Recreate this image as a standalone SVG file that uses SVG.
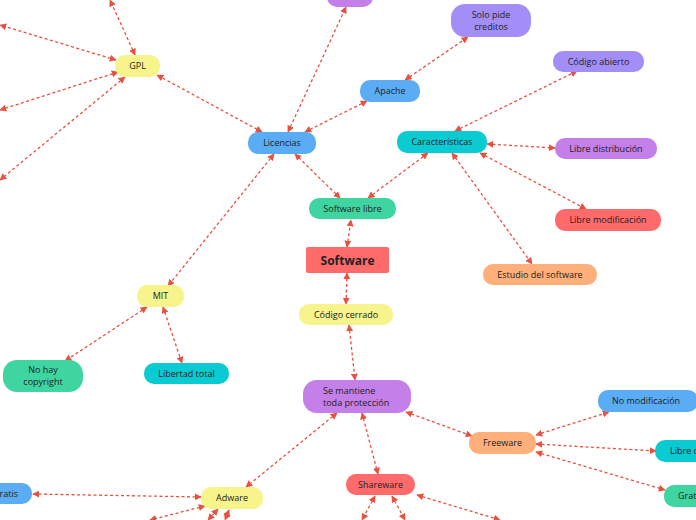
<svg xmlns="http://www.w3.org/2000/svg" width="696" height="520" viewBox="0 0 696 520">
<style>
text{font-family:"Open Sans","Noto Sans",sans-serif;font-size:9px;fill:#222;text-anchor:middle}
.e line{stroke:#E8503F;stroke-width:1.3;stroke-dasharray:3,2.5;marker-start:url(#a);marker-end:url(#a)}
.y{fill:#F7F48B}.g{fill:#3FD5A0}.b{fill:#5AADF5}.c{fill:#0ACBD1}.p{fill:#C57FE8}.l{fill:#A38EF8}.r{fill:#FF6B6B}.o{fill:#FFB07A}
</style>
<defs><marker id="a" viewBox="0 0 10 10" refX="9" refY="5" markerWidth="7" markerHeight="7" markerUnits="userSpaceOnUse" orient="auto-start-reverse"><path d="M0,0L10,5L0,10z" fill="#E8503F"/></marker></defs>
<rect width="696" height="520" fill="#fff"/>
<g class="e">
<line x1="347" y1="247" x2="351" y2="220"/>
<line x1="347" y1="273" x2="346" y2="304"/>
<line x1="340" y1="198" x2="295" y2="154"/>
<line x1="368" y1="198" x2="428" y2="153"/>
<line x1="262" y1="132" x2="157" y2="75"/>
<line x1="288" y1="132" x2="346" y2="7"/>
<line x1="305" y1="132" x2="367" y2="101"/>
<line x1="274" y1="154" x2="168" y2="286"/>
<line x1="135" y1="55" x2="110" y2="0"/>
<line x1="116" y1="60" x2="0" y2="25"/>
<line x1="118" y1="72" x2="0" y2="110"/>
<line x1="125" y1="77" x2="0" y2="180"/>
<line x1="147" y1="307" x2="65" y2="361"/>
<line x1="163" y1="307" x2="182" y2="363"/>
<line x1="405" y1="80" x2="468" y2="37"/>
<line x1="455" y1="131" x2="577" y2="71"/>
<line x1="487" y1="144" x2="555" y2="148"/>
<line x1="480" y1="153" x2="586" y2="209"/>
<line x1="452" y1="153" x2="532" y2="264"/>
<line x1="349" y1="325" x2="355" y2="380"/>
<line x1="337" y1="413" x2="246" y2="487"/>
<line x1="362" y1="413" x2="378" y2="474"/>
<line x1="406" y1="412" x2="472" y2="436"/>
<line x1="536" y1="435" x2="609" y2="412"/>
<line x1="536" y1="444" x2="656" y2="451"/>
<line x1="536" y1="452" x2="665" y2="490"/>
<line x1="201" y1="497" x2="33" y2="494"/>
<line x1="205" y1="506" x2="150" y2="520"/>
<line x1="218" y1="509" x2="208" y2="520"/>
<line x1="229" y1="510" x2="225" y2="520"/>
<line x1="375" y1="496" x2="362" y2="520"/>
<line x1="392" y1="496" x2="405" y2="520"/>
<line x1="417" y1="495" x2="500" y2="520"/>
</g>
<g id="software"><rect class="r" x="306" y="247" width="83" height="26" rx="2"/><text x="347.5" y="264.5" style="font-size:12px;font-weight:bold">Software</text></g>
<g id="libre"><rect class="g" x="309" y="198" width="87" height="21" rx="10"/><text x="352.5" y="211.5">Software libre</text></g>
<g id="cerrado"><rect class="y" x="299" y="304" width="94" height="21" rx="10"/><text x="346" y="317.5">Código cerrado</text></g>
<g id="licencias"><rect class="b" x="248" y="132" width="68" height="22" rx="10"/><text x="282" y="146">Licencias</text></g>
<g id="gpl"><rect class="y" x="115" y="55" width="45" height="22" rx="10"/><text x="137.5" y="69">GPL</text></g>
<g id="mit"><rect class="y" x="137" y="285" width="47" height="22" rx="10"/><text x="160.5" y="299">MIT</text></g>
<g id="nohay"><rect class="g" x="3" y="360" width="80" height="32" rx="14"/><text x="43" y="373">No hay</text><text x="43" y="385">copyright</text></g>
<g id="libertad"><rect class="c" x="144" y="363" width="85" height="21" rx="10"/><text x="186.5" y="376.5">Libertad total</text></g>
<g id="top"><rect class="p" x="327" y="-15" width="46" height="22" rx="10"/></g>
<g id="apache"><rect class="b" x="360" y="80" width="60" height="22" rx="10"/><text x="390" y="94">Apache</text></g>
<g id="solo"><rect class="l" x="451" y="4" width="80" height="33" rx="14"/><text x="491" y="17.5">Solo pide</text><text x="491" y="29.5">creditos</text></g>
<g id="caract"><rect class="c" x="397" y="131" width="90" height="22" rx="10"/><text x="442" y="145">Características</text></g>
<g id="abierto"><rect class="l" x="553" y="51" width="91" height="21" rx="10"/><text x="598.5" y="64.5">Código abierto</text></g>
<g id="distrib"><rect class="p" x="555" y="138" width="102" height="21" rx="10"/><text x="606" y="151.5">Libre distribución</text></g>
<g id="modif"><rect class="r" x="555" y="209" width="106" height="22" rx="10"/><text x="608" y="223">Libre modificación</text></g>
<g id="estudio"><rect class="o" x="483" y="264" width="114" height="21" rx="10"/><text x="540" y="277.5">Estudio del software</text></g>
<g id="mantiene"><rect class="p" x="303" y="380" width="108" height="33" rx="14"/><text x="350" y="393.5" style="text-anchor:start" dx="-27">Se mantiene</text><text x="323" y="405.5" style="text-anchor:start">toda protección</text></g>
<g id="freeware"><rect class="o" x="469" y="432" width="67" height="22" rx="10"/><text x="502.5" y="446">Freeware</text></g>
<g id="nomod"><rect class="b" x="598" y="390" width="100" height="22" rx="10"/><text x="646" y="404">No modificación</text></g>
<g id="libred"><rect class="c" x="655" y="440" width="60" height="22" rx="10"/><text x="670" y="454" style="text-anchor:start">Libre d</text></g>
<g id="grat"><rect class="g" x="664" y="485" width="50" height="22" rx="10"/><text x="678" y="499" style="text-anchor:start">Grat</text></g>
<g id="shareware"><rect class="r" x="346" y="474" width="69" height="21" rx="10"/><text x="380.5" y="487.5">Shareware</text></g>
<g id="adware"><rect class="y" x="201" y="487" width="62" height="22" rx="10"/><text x="232" y="501">Adware</text></g>
<g id="gratis"><rect class="b" x="-30" y="483" width="62" height="21" rx="10"/><text x="18" y="496.5" style="text-anchor:end">ratis</text></g>
</svg>
